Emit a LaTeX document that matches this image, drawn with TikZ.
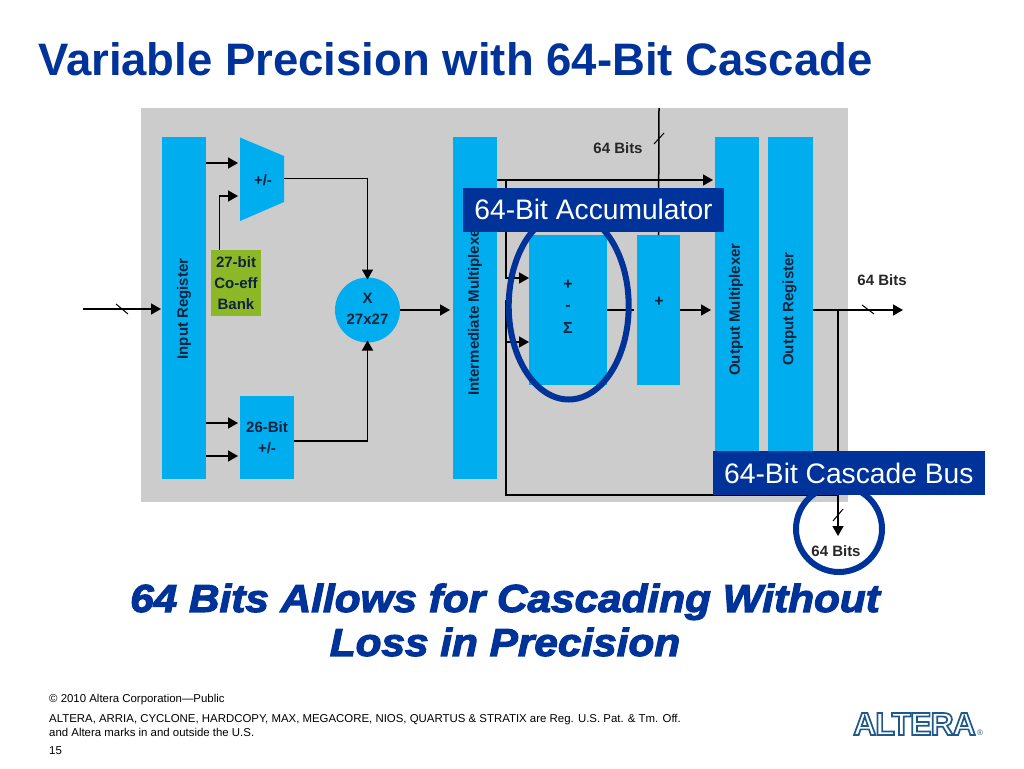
\documentclass[tikz,border=0pt]{standalone}
\usepackage{fontspec}
\setmainfont{Liberation Sans}
\newfontfamily\smearfont[BoldItalicFeatures={FakeBold=3,FakeStretch=1.085}]{Liberation Sans}
\newfontfamily\logofont[BoldFeatures={LetterSpace=-3}]{Liberation Sans}
\usetikzlibrary{arrows.meta,shapes.geometric}
\definecolor{altblue}{RGB}{0,51,153}
\definecolor{cyanblock}{RGB}{0,174,239}
\definecolor{panelgray}{RGB}{204,204,204}
\definecolor{bankgreen}{RGB}{140,184,40}
\definecolor{darktext}{RGB}{15,35,60}
\definecolor{logoblue}{RGB}{30,90,140}
\newcommand{\fs}[1]{\fontsize{#1}{#1}\selectfont}
\newcommand{\fsl}[2]{\fontsize{#1}{#2}\selectfont}
\tikzset{
  block/.style={fill=cyanblock,draw=none,inner sep=0pt,outer sep=0pt},
  blocktext/.style={font=\fsl{15}{21}\bfseries,text=darktext,inner sep=0pt,align=center},
  signtext/.style={font=\fs{16}\bfseries,text=darktext,inner sep=0pt},
  vtext/.style={font=\fs{15}\bfseries,text=darktext,inner sep=0pt,rotate=90},
  wire/.style={draw=black,line width=1.5pt},
  arr/.style={wire,-{Triangle[length=10pt,width=11pt]}},
  tick/.style={draw=black,line width=1pt},
  callout/.style={fill=altblue,text=white,font=\fs{28.2},inner sep=0pt,outer sep=0pt},
  ring/.style={draw=altblue,line width=6pt,fill=none},
  foot/.style={font=\fs{11.42},anchor=base west,inner sep=0pt,text=black},
  bits/.style={font=\fs{15}\bfseries,text=black!85,inner sep=0pt},
}
\begin{document}
\begin{tikzpicture}[x=1pt,y=-1pt]
\useasboundingbox (0,0) rectangle (1024,768);
\fill[white] (0,0) rectangle (1024,768);
\node[anchor=base west,inner sep=0pt,text=altblue,font=\fs{45.5}\bfseries] (title) at (38,75.5) {Variable Precision with 64-Bit Cascade};
\fill[panelgray] (141,108) rectangle (848,502);
% blocks
\node[block,minimum width=44pt,minimum height=342pt] (inreg) at (184,308) {};
\node[vtext] (inlbl) at (184,309) {Input Register};
\fill[cyanblock] (240,137.5) -- (284,156) -- (284,202) -- (240,221) -- cycle;
\coordinate (trapIn1) at (238,163);
\coordinate (trapIn2) at (238,196);
\coordinate (trapOut) at (284,178.5);
\node[blocktext] (trapl) at (263,180.5) {+/-};
\node[fill=bankgreen,minimum width=50pt,minimum height=66pt,inner sep=0pt,outer sep=0pt] (bank) at (236,283) {};
\node[blocktext] (banklbl) at (236,283) {27-bit\\Co-eff\\Bank};
\node[block,minimum width=54pt,minimum height=83pt] (adder) at (267,437.5) {};
\node[blocktext] (adderlbl) at (267,438) {26-Bit\\+/-};
\node[circle,fill=cyanblock,minimum size=65pt,inner sep=0pt,outer sep=0pt] (mult) at (367.5,310) {};
\node[blocktext] (multlbl) at (367.5,309) {X\\27x27};
\node[block,minimum width=44pt,minimum height=342pt] (imux) at (475,308) {};
\node[vtext,anchor=west] (imuxl) at (475,396) {Intermediate Multiplexer};
\node[block,minimum width=78pt,minimum height=150pt] (acc) at (568,310) {};
\node[signtext] (accp) at (568,285) {+};
\node[signtext] (accm) at (568,308) {-};
\node[signtext] (accs) at (568,328) {Σ};
\node[block,minimum width=43pt,minimum height=150pt] (add2) at (658.5,310) {};
\node[signtext] (add2l) at (659,301.5) {+};
\node[block,minimum width=44pt,minimum height=342pt] (omux) at (737,308) {};
\node[vtext,anchor=west] (omuxl) at (736,376) {Output Multiplexer};
\node[block,minimum width=45pt,minimum height=342pt] (oreg) at (790.5,308) {};
\node[vtext,anchor=west] (oregl) at (789.5,366) {Output Register};
% wires
\coordinate (inStart) at (83,309);
\draw[arr,shorten >=1pt] (inStart) -- (inreg.west |- inStart);
\coordinate (t1) at (122,309);
\draw[tick] ([shift={(-6,-5)}]t1) -- ([shift={(6,5)}]t1);
\draw[arr] (inreg.east |- trapIn1) -- (trapIn1);
\draw[arr] (219.7,250) |- (trapIn2);
\draw[arr] (trapOut) -| ([yshift=-2pt]mult.north);
\draw[arr] (inreg.east |- 0,423) -- (238,423);
\draw[arr] (inreg.east |- 0,456) -- (238,456);
\draw[arr] (adder.east |- 0,441) -| ([yshift=2pt]mult.south);
\draw[arr,shorten >=3pt] (mult.east) -- (imux.west |- mult.east);
\coordinate (busTop) at (506,180);
\draw[arr,shorten >=2pt] (imux.east |- busTop) -- (omux.west |- busTop);
\coordinate (inA) at (acc.west |- 0,278);
\coordinate (inB) at (acc.west |- 0,342);
\coordinate (corner) at (838,495);
\draw[arr] (busTop) |- (inA);
\draw[arr] (506,300) |- (inB);
\draw[wire] (506,342) -- (506,495) -- (corner);
\coordinate (top64) at (659,108);
\draw[wire] (top64) -- (add2.north);
\draw[tick] (654,144) -- (664,133);
\node[bits] (b1) at (618,148) {64 Bits};
\draw[wire,shorten >=3pt] (acc.east |- 0,310) -- (add2.west |- 0,310);
\draw[arr] (add2.east |- 0,310) -- (711,310);
\coordinate (outEnd) at (903,310);
\draw[arr] (oreg.east |- outEnd) -- (outEnd);
\draw[tick] (862,305) -- (874,314);
\node[bits] (b2) at (882,280) {64 Bits};
\coordinate (tap) at (838,310);
\coordinate (downEnd) at (838,536);
\draw[arr] (tap) -- (downEnd);
\draw[tick] (833,521) -- (843,509);
\node[bits] (b3) at (836,551) {64 Bits};
% rings
\node[ellipse,ring,minimum width=120pt,minimum height=187pt,inner sep=0pt] (ell) at (568.7,306) {};
\node[circle,ring,minimum size=86pt,inner sep=0pt] (circ) at (839,529) {};
% callouts
\node[callout,minimum width=261pt,minimum height=44pt] (c1) at (593.5,209.6) {64-Bit Accumulator};
\node[callout,minimum width=272pt,minimum height=44pt] (c2) at (848.8,473) {64-Bit Cascade Bus};
% subtitle
\node[inner sep=0pt,text=altblue,align=center,font=\smearfont\fsl{39}{44}\bfseries\itshape] (sub) at (505,620) {64 Bits Allows for Cascading Without\\Loss in Precision};
% footer
\node[foot] (f1) at (49,702) {© 2010 Altera Corporation—Public};
\node[foot] (f2) at (49,722) {ALTERA, ARRIA, CYCLONE, HARDCOPY, MAX, MEGACORE, NIOS, QUARTUS \& STRATIX are Reg. U.S. Pat. \& Tm. Off.};
\node[foot] (f3) at (49,736) {and Altera marks in and outside the U.S.};
\node[foot] (f4) at (49,754) {15};
% logo
\node[inner sep=0pt,anchor=base west,text=logoblue,font=\logofont\fs{32}\bfseries] (logo) at (853,735) {\special{pdf:code q 2 Tr 1.7 w 0.12 0.35 0.55 RG 1 1 1 rg}ALTERA\special{pdf:code Q}};
\node[inner sep=0pt,text=logoblue,font=\fs{8}] (reg) at (980,733) {®};
\end{tikzpicture}
\end{document}
